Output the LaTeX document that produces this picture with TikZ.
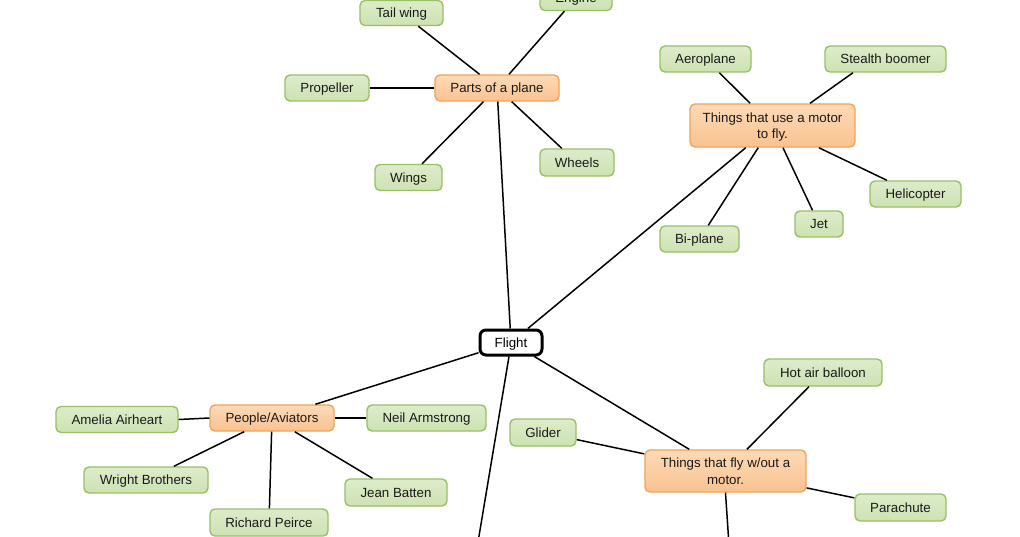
\documentclass[tikz,border=0pt]{standalone}
\usepackage{fontspec}
\setmainfont{Liberation Sans}
\usetikzlibrary{calc}
\definecolor{gfillt}{HTML}{DDECCB}
\definecolor{gfillb}{HTML}{CDE2B1}
\definecolor{gdraw}{HTML}{98C066}
\definecolor{ofillt}{HTML}{FDDAB7}
\definecolor{ofillb}{HTML}{F9C290}
\definecolor{odraw}{HTML}{EFA45C}
\definecolor{txt}{HTML}{1A1A1A}
\tikzset{
  boxtext/.style={inner sep=0pt, text height=9.5pt, text depth=0pt,
    font=\fontsize{13.3}{16.5}\selectfont, align=center},
  leaf/.style={rectangle, rounded corners=5pt, draw=gdraw, line width=1.4pt,
    top color=gfillt, bottom color=gfillb, minimum height=26pt, boxtext, text=txt},
  hub/.style={rectangle, rounded corners=5pt, draw=odraw, line width=1.4pt,
    top color=ofillt, bottom color=ofillb, minimum height=26pt, boxtext, text=txt},
  twolines/.style={text height=26pt, text depth=0pt},
  rootbox/.style={rectangle, rounded corners=6pt, draw=black, line width=3pt,
    fill=white, minimum width=62pt, minimum height=25pt, boxtext, text=black},
  link/.style={draw=black, line width=1.5pt}
}
\begin{document}
\begin{tikzpicture}[x=1pt,y=-1pt]
\clip (0,0) rectangle (1020,536);
\fill[white] (0,0) rectangle (1020,536);
% nodes
\node[rootbox] (flight) at (511,342.5) {Flight};
\node[hub, minimum width=124pt] (parts) at (497,88) {Parts of a plane};
\node[leaf, minimum width=83pt, minimum height=25pt] (tail) at (401.5,13) {Tail wing};
\node[leaf, minimum width=72pt, minimum height=25pt] (engine) at (576,-2) {Engine};
\node[leaf, minimum width=84pt] (prop) at (327,88) {Propeller};
\node[leaf, minimum width=67pt] (wings) at (408.5,177.5) {Wings};
\node[leaf, minimum width=74pt, minimum height=27pt] (wheels) at (577,162.5) {Wheels};

\node[hub, twolines, minimum width=165pt, minimum height=43pt] (motor) at (772.5,125.5) {Things that use a motor\\to fly.};
\node[leaf, minimum width=91pt] (aero) at (705.5,59) {Aeroplane};
\node[leaf, minimum width=121pt] (stealth) at (885.5,59) {Stealth boomer};
\node[leaf, minimum width=91pt] (heli) at (915.5,194) {Helicopter};
\node[leaf, minimum width=48pt] (jet) at (819,224) {Jet};
\node[leaf, minimum width=79pt] (biplane) at (699.5,239) {Bi-plane};

\node[hub, twolines, minimum width=161pt, minimum height=42pt] (nomotor) at (725.5,471) {Things that fly w/out a\\motor.};
\node[leaf, minimum width=66pt, minimum height=27pt] (glider) at (543,432.5) {Glider};
\node[leaf, minimum width=118pt, minimum height=27pt] (balloon) at (823,372.5) {Hot air balloon};
\node[leaf, minimum width=91pt, minimum height=27pt] (chute) at (900.5,507.5) {Parachute};

\node[hub, minimum width=124pt] (people) at (272,418) {People/Aviators};
\node[leaf, minimum width=122pt] (amelia) at (117,419.5) {Amelia Airheart};
\node[leaf, minimum width=119pt] (neil) at (426.5,418) {Neil Armstrong};
\node[leaf, minimum width=124pt] (wright) at (146,480) {Wright Brothers};
\node[leaf, minimum width=102pt, minimum height=27pt] (jean) at (396,492.5) {Jean Batten};
\node[leaf, minimum width=118pt, minimum height=27pt] (richard) at (269,522.5) {Richard Peirce};

\coordinate (offA) at (475,560);
\coordinate (offB) at (730,560);

% connectors
\draw[link] (flight) -- (parts);
\draw[link] (parts) -- (tail);
\draw[link] (parts) -- (engine);
\draw[link] (parts.west) -- (prop.east);
\draw[link] (parts) -- (wings);
\draw[link] (parts) -- (wheels);

\draw[link] (flight) -- (motor);
\draw[link] (motor) -- (aero);
\draw[link] ($(motor.north)+(37.5,0)$) -- ($(stealth.south)+(-32.5,0)$);
\draw[link] (motor) -- (heli);
\draw[link] (motor) -- (jet);
\draw[link] (motor) -- (biplane);

\draw[link] (flight) -- (nomotor);
\draw[link] (nomotor) -- (glider);
\draw[link] (nomotor) -- (balloon);
\draw[link] (nomotor) -- (chute);
\draw[link] (nomotor.south) -- (offB);

\draw[link] (flight) -- (people);
\draw[link] (people.west) -- (amelia.east);
\draw[link] (people.east) -- (neil.west);
\draw[link] (people) -- (wright);
\draw[link] (people) -- (jean);
\draw[link] (people) -- (richard);

\draw[link] ($(flight.south)+(-2,0)$) -- (offA);
\end{tikzpicture}
\end{document}
